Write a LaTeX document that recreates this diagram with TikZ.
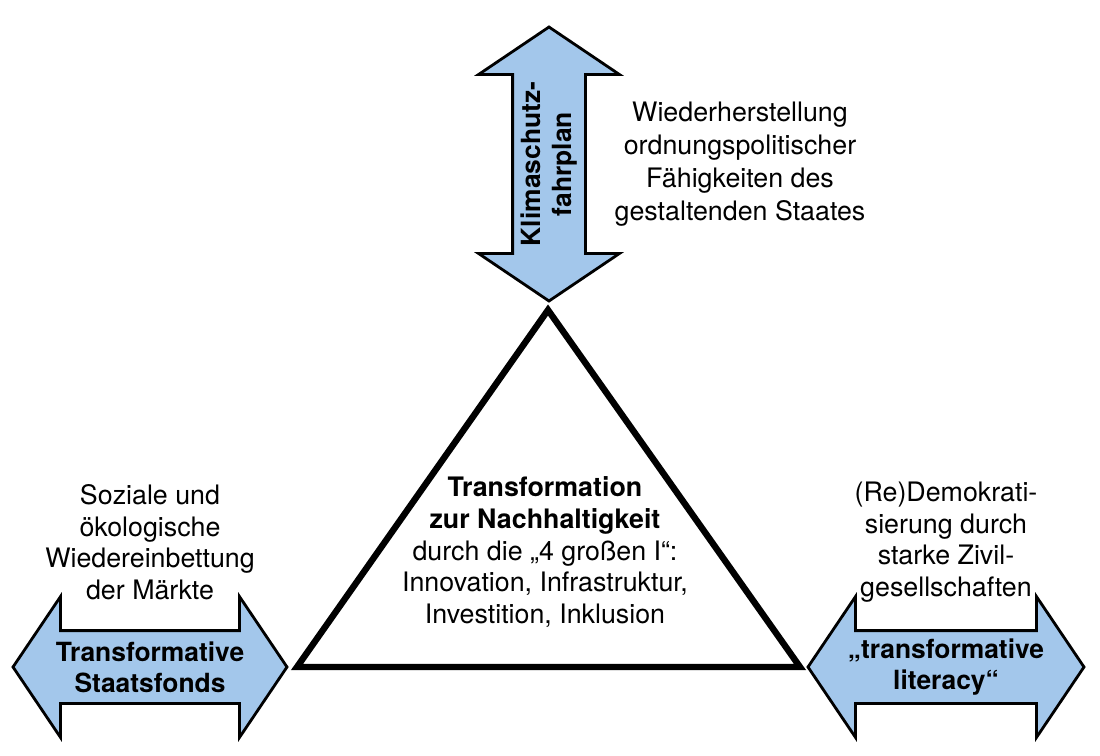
\documentclass[tikz,border=0pt]{standalone}
\usepackage{fontspec}
\setmainfont{TeX Gyre Heros}
\usetikzlibrary{shapes.arrows}
\definecolor{arrowblue}{RGB}{163,199,235}

\begin{document}
\begin{tikzpicture}[
            x=0.5pt, y=-0.5pt,
            bigarrow/.style={double arrow,draw,line width=1.4pt,fill=arrowblue,
                inner xsep=0pt,inner ysep=17.5pt,double arrow head extend=17pt,
                double arrow tip angle=112},
            arrowtext/.style={align=center,font=\fontsize{13.2}{15.5}\selectfont\bfseries},
            sidetext/.style={align=center,font=\fontsize{13.4}{15.8}\selectfont}
        ]
        \useasboundingbox (0,0) rectangle (1100,756);
        % the three arrows
        \node[bigarrow,rotate=90,minimum height=137pt] (plan) at (549,164) {};
        \node[bigarrow,minimum height=137pt] (fonds) at (150,667) {};
        \node[bigarrow,minimum height=138pt] (literacy) at (946,667) {};
        \node[arrowtext,rotate=90] (plantext) at (plan) {Klimaschutz-\\fahrplan};
        \node[arrowtext] (fondstext) at (fonds) {Transformative\\Staatsfonds};
        \node[arrowtext] (literacytext) at (literacy) {„transformative\\literacy“};
        % triangle
        \coordinate (apex) at (548,310);
        \coordinate (baseleft) at (297,667);
        \coordinate (baseright) at (800,667);
        \draw[line width=3.2pt] (apex) -- (baseright) -- (baseleft) -- cycle;
        \node[sidetext] (kern) at (545,552) {\textbf{Transformation}\\\textbf{zur Nachhaltigkeit}\\durch die „4 großen I“:\\Innovation, Infrastruktur,\\Investition, Inklusion};
        % side texts
        \node[sidetext,font=\fontsize{13.4}{16.4}\selectfont] (staat) at (740,164) {Wiederherstellung\\ordnungspolitischer\\Fähigkeiten des\\gestaltenden Staates};
        \node[sidetext] (maerkte) at (150,542) {Soziale und\\ökologische\\Wiedereinbettung\\der Märkte};
        \node[sidetext] (demokratie) at (946,542) {(Re)Demokrati-\\sierung durch\\starke Zivil-\\gesellschaften};
    \end{tikzpicture}
\end{document}
